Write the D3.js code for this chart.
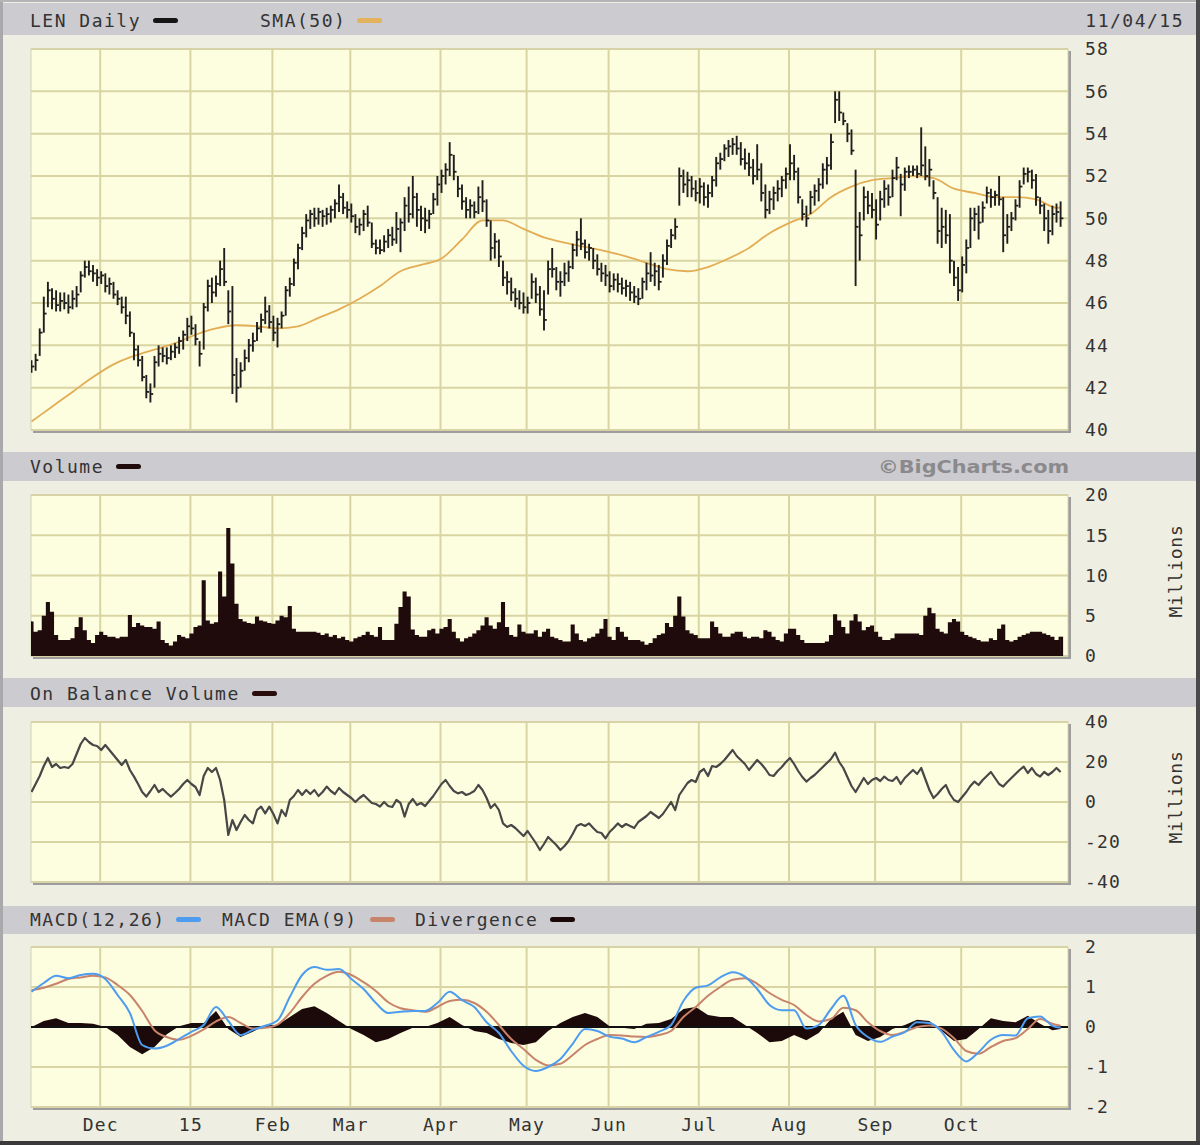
<!DOCTYPE html>
<html><head><meta charset="utf-8">
<script src="https://cdn.jsdelivr.net/npm/d3@7"></script>
<style>
html,body{margin:0;padding:0;background:#efeee2;}
svg{display:block;}
</style></head><body>
<svg id="chart" width="1200" height="1145"></svg>
<script>
// ---------- DATA (trading days from 2014-11-05 to 2015-11-04) ----------
const monthLabels = ["Dec","15","Feb","Mar","Apr","May","Jun","Jul","Aug","Sep","Oct"];
const monthStartIdx = [17,39,59,78,100,121,141,163,185,206,227];

const priceTicks = [40,42,44,46,48,50,52,54,56,58];
const volTicks = [0,5,10,15,20];
const obvTicks = [-40,-20,0,20,40];
const macdTicks = [-2,-1,0,1,2];

const high = [
43.3,43.6,44.8,46.3,47.0,46.7,46.6,46.5,46.5,46.4,
46.6,46.8,47.5,48.0,48.0,47.8,47.6,47.5,47.4,47.2,
47.0,46.6,46.3,46.3,45.6,44.6,44.0,43.5,42.6,42.2,
43.5,44.0,43.9,43.9,44.0,44.1,44.4,44.7,45.3,45.4,
45.0,44.2,46.0,47.1,47.2,47.3,48.0,48.6,46.6,46.8,
43.4,43.2,43.8,44.3,44.6,45.1,45.5,46.3,45.9,45.4,
45.3,45.6,46.8,47.2,48.1,48.8,49.6,50.2,50.4,50.5,
50.5,50.4,50.5,50.6,50.9,51.6,51.2,50.8,50.7,50.2,
50.0,50.4,50.6,49.8,49.0,49.0,49.2,49.5,49.6,50.3,
50.0,51.0,51.5,52.0,51.2,50.6,50.5,50.4,51.2,52.0,
52.3,52.6,53.6,53.0,52.0,51.6,51.0,50.9,50.8,51.5,
51.8,50.9,49.9,49.3,49.0,48.0,47.5,47.2,46.7,46.6,
46.5,46.3,47.4,47.2,46.8,46.6,48.0,48.6,47.7,47.5,
47.9,48.0,48.8,49.4,50.0,49.0,48.8,48.6,48.3,47.9,
47.8,47.5,47.4,47.4,47.2,47.1,47.0,46.8,46.7,47.2,
47.9,48.4,47.9,47.8,48.3,49.0,49.5,50.0,52.4,52.3,
52.2,52.0,51.8,51.9,51.7,51.6,52.0,52.9,53.1,53.5,
53.7,53.8,53.9,53.6,53.3,53.1,52.8,53.5,52.6,51.6,
51.3,51.5,51.8,52.0,52.4,53.5,53.0,52.4,50.9,50.6,
51.3,51.6,51.9,52.6,52.9,54.0,56.0,56.0,55.0,54.5,
54.2,52.3,50.3,51.5,51.3,51.2,50.9,51.3,51.8,51.6,
52.3,52.9,52.1,52.4,52.5,52.5,52.5,54.3,53.4,52.8,
51.8,51.0,50.5,50.4,50.2,48.0,47.7,48.2,49.0,50.5,
50.5,50.6,50.8,51.5,51.4,51.3,52.0,51.0,50.2,50.3,
50.9,51.8,52.4,52.4,52.3,52.1,51.0,50.7,50.4,50.6,
50.7,50.8];
const low = [
42.7,42.8,43.5,44.6,45.8,45.7,45.6,45.6,45.7,45.5,
45.7,45.8,46.5,47.2,47.3,47.0,46.8,46.9,46.5,46.4,
46.2,45.9,45.5,45.0,44.4,43.3,43.0,42.3,41.5,41.3,
42.0,43.0,43.2,43.1,43.3,43.4,43.6,43.8,44.2,44.5,
44.0,43.0,43.8,45.6,46.0,46.3,46.8,46.8,45.0,41.7,
41.3,42.0,42.8,43.2,43.7,44.2,44.6,45.0,44.8,44.2,
43.9,44.8,45.4,46.3,46.8,47.6,48.5,49.1,49.5,49.6,
49.7,49.6,49.7,49.8,50.0,50.3,50.2,50.0,49.8,49.3,
49.2,49.4,49.6,48.6,48.3,48.3,48.4,48.6,48.7,48.8,
48.4,49.4,49.8,50.0,49.6,49.4,49.3,49.5,50.2,50.6,
51.2,51.6,52.0,51.8,51.0,50.4,50.0,50.0,50.0,50.2,
50.3,49.6,48.0,48.1,47.7,46.8,46.4,46.1,45.8,45.7,
45.5,45.5,46.2,46.0,45.4,44.7,46.4,47.2,46.6,46.3,
46.8,47.0,47.6,48.2,48.5,48.1,48.0,47.6,47.3,47.0,
46.8,46.5,46.6,46.5,46.4,46.3,46.1,46.0,45.9,46.2,
46.6,47.0,46.8,46.6,47.2,47.8,48.6,49.0,50.6,51.2,
51.0,51.0,50.8,50.7,50.6,50.5,51.0,51.5,52.3,52.7,
52.9,53.0,53.0,52.5,52.3,52.0,51.6,51.8,50.8,50.0,
50.2,50.4,50.8,51.0,51.4,51.8,51.8,50.7,49.9,49.6,
50.2,50.6,50.8,51.4,51.6,52.3,54.5,54.6,54.4,53.6,
53.0,46.8,48.0,49.9,50.2,50.0,49.0,49.9,50.5,50.6,
51.0,51.8,50.1,51.3,51.9,52.0,51.9,52.0,51.8,51.5,
50.9,48.8,48.6,48.8,47.4,46.8,46.1,46.5,47.4,48.6,
49.4,49.0,49.8,50.7,50.5,50.6,50.6,48.4,48.8,49.4,
49.9,50.5,51.6,51.7,51.4,50.6,50.2,49.4,48.8,49.2,
49.8,49.6];
const close = [
43.0,43.3,44.6,45.5,46.6,46.2,45.9,46.1,46.0,45.8,
46.2,46.4,47.3,47.7,47.5,47.4,47.2,47.3,46.8,46.9,
46.4,46.2,45.8,45.4,44.6,43.8,43.3,42.5,41.8,41.7,
43.2,43.6,43.5,43.4,43.7,43.9,44.2,44.5,44.9,44.8,
44.3,43.6,45.8,46.8,46.5,46.9,47.6,47.0,45.6,42.6,
42.0,42.8,43.4,44.0,44.2,44.8,45.2,45.6,45.1,44.6,
45.0,45.4,46.6,46.9,47.9,48.6,49.3,49.9,50.2,50.0,
50.3,50.1,50.2,50.4,50.7,51.0,50.5,50.4,50.1,49.6,
49.7,50.2,49.8,48.8,48.6,48.5,48.9,49.2,49.0,49.5,
49.8,50.6,50.2,51.0,50.4,50.0,49.9,50.2,50.9,51.6,
52.0,52.3,53.0,52.2,51.4,50.8,50.4,50.6,50.3,51.0,
50.8,49.9,48.6,48.9,48.2,47.2,47.0,46.5,46.2,46.0,
45.8,46.0,47.0,46.4,45.7,45.2,47.6,47.6,47.0,47.0,
47.4,47.7,48.5,49.0,48.8,48.4,48.6,48.0,47.6,47.4,
47.3,46.8,47.1,46.9,46.7,46.8,46.5,46.3,46.2,47.0,
47.4,47.3,47.5,47.0,48.0,48.7,49.2,49.6,52.0,51.6,
51.8,51.4,51.2,51.5,51.0,51.2,51.8,52.6,52.8,53.3,
53.4,53.5,53.3,52.8,52.6,52.4,52.0,52.3,51.2,50.4,
50.9,51.2,51.4,51.8,52.1,52.6,52.2,51.0,50.2,50.0,
51.0,51.3,51.6,52.3,52.5,53.6,55.6,55.0,54.6,54.0,
53.2,49.6,49.2,51.0,50.6,50.4,49.7,50.9,51.4,51.0,
51.9,52.4,51.6,52.2,52.2,52.3,52.1,52.5,52.0,52.3,
51.2,49.4,49.6,49.2,48.0,47.2,46.6,47.8,48.6,50.0,
50.2,49.8,50.5,51.2,51.0,51.1,50.9,49.2,49.6,50.0,
50.6,51.5,52.1,52.2,51.8,51.0,50.6,50.0,49.4,50.2,
50.3,50.0];
// SMA(50), one value every 5 trading days (last = final day)
const sma50 = [
40.4,41.1,41.8,42.5,43.1,43.5,43.8,44.1,44.5,44.8,
44.95,44.9,44.8,44.9,45.3,45.7,46.2,46.8,47.5,47.8,
48.1,49.0,49.9,49.9,49.5,49.1,48.85,48.65,48.45,48.2,
47.9,47.6,47.5,47.7,48.1,48.6,49.3,49.8,50.2,51.0,
51.5,51.8,51.9,52.0,51.9,51.4,51.2,51.0,51.0,50.9,
50.5,50.5];
// Volume, millions
const volume = [
4.3,3.0,3.2,5.0,6.7,5.5,2.6,2.0,2.0,2.0,
2.2,3.6,4.8,3.2,2.0,1.6,2.6,3.0,2.6,2.4,
2.4,2.2,2.4,2.4,5.1,3.6,4.1,3.8,3.6,3.6,
3.4,4.3,2.0,1.6,1.3,1.8,2.6,2.4,2.2,2.8,
3.6,3.8,9.4,4.4,4.0,4.2,10.5,7.4,15.9,11.5,
6.5,4.6,4.3,4.1,4.0,4.9,4.4,4.3,4.1,4.0,
4.4,5.0,4.8,6.2,3.4,3.0,3.0,3.0,3.0,3.0,
2.9,2.6,2.8,2.4,2.6,2.2,2.4,2.0,1.8,2.2,
2.4,2.6,3.0,2.6,2.4,3.6,2.0,2.0,2.0,4.0,
6.1,8.0,7.4,3.3,2.6,2.4,2.4,3.2,3.4,2.8,
3.4,3.6,4.6,3.0,2.2,1.8,2.2,2.4,2.8,3.2,
3.8,4.8,3.8,3.4,4.2,6.7,3.6,2.6,2.4,3.9,
3.0,2.8,2.8,3.2,2.4,3.0,3.4,2.4,2.2,2.0,
1.8,1.8,3.9,2.8,2.0,1.8,2.2,2.4,2.8,3.4,
4.6,2.4,2.0,3.6,3.0,2.4,2.0,2.0,2.0,1.8,
1.4,1.6,2.2,2.6,2.8,4.1,3.6,5.0,7.4,4.9,
3.2,2.8,2.6,2.2,2.2,2.2,4.3,3.6,2.8,2.4,
2.4,2.8,3.0,3.0,2.4,2.2,2.4,2.4,2.2,3.2,
3.0,2.4,2.0,1.8,2.8,3.4,3.4,2.6,2.0,1.6,
1.6,1.6,1.6,1.6,1.8,2.6,5.2,4.4,3.6,2.8,
4.4,5.2,4.3,3.2,3.6,3.8,3.0,2.4,2.0,2.0,
2.2,2.8,2.8,2.8,2.8,2.8,2.8,2.6,5.0,6.0,
5.3,3.4,3.0,2.8,4.2,4.6,4.3,3.0,2.6,2.4,
2.2,2.0,1.8,1.8,2.2,2.0,3.4,3.9,2.0,1.8,
2.0,2.4,2.6,2.8,3.0,3.0,3.0,2.8,2.6,2.4,
2.0,2.4];
// On Balance Volume, millions
const obv = [
5,9,13,18,22,17.5,19,17,17.5,17,
19,24,29,32,30,28.5,28,26,28.5,26,
23.5,21,18.5,21,16,12.7,9,5,2.7,5.5,
8.5,5,6.5,4.5,2.7,4.5,6.5,9,11,9,
7.5,3.5,13,17,15,17,11,1,-16.5,-9,
-14,-10,-6.5,-9,-10.7,-4,-2.3,-5.7,-2.3,-6,
-10.7,-4,-7,1,3,6,3.5,6,4,6,
3,5,7.7,5.5,4,7,5,3.5,2,0,
2,3.5,1.5,-0.5,-1,-2.3,0,-2,-2.5,1,
-0.5,-7.3,-1,1.5,-1.5,-0.5,-2,0.5,3,6,
9,11,8,5.5,4.3,5,3.5,4.3,5.5,8.5,
6,2,-3,-1,-4,-10.7,-12.5,-11.5,-13,-15,
-17,-14.5,-17.5,-20.5,-24,-21,-17.5,-19.5,-21.5,-24,
-22,-19.5,-16,-12,-11,-12,-10.7,-13,-15,-15.5,
-18.2,-15,-13,-10.7,-12.5,-11,-12,-13,-10,-8.5,
-7,-5,-6.5,-8,-6,-3,0,-4,3.5,6.5,
9.5,11,10,15,16.5,13,18,17.5,19,21,
23.5,26,23,21,19,16,18.5,21,19,16.5,
13.5,13,15.5,17.5,20,22,19,15.5,12.5,10.2,
12,13.5,15.5,17.5,19.5,21.5,24.7,20,17,12.5,
8,5,8.5,12,9,11,12,10.5,12.7,11,
10.5,12.5,9,12,14,16,14,17,11.5,6,
2,4,6.5,8.5,4,1,0,2.5,5,8,
10.2,8.5,11,13,15,12,9,7.7,10,12,
14,16,17.7,14.5,17,14,12.7,15,13.5,15,
17,15];
// MACD(12,26), EMA(9), Divergence - one value every 3 trading days (last = final day)
const macd = [
0.88,1.1,1.28,1.22,1.3,1.33,1.2,0.8,0.35,-0.45,
-0.54,-0.47,-0.3,-0.12,0.05,0.5,0.15,-0.2,-0.07,0.03,
0.16,0.75,1.3,1.5,1.43,1.45,1.2,0.95,0.6,0.35,
0.38,0.4,0.4,0.6,0.88,0.67,0.5,0.12,-0.15,-0.6,
-0.97,-1.1,-1.0,-0.8,-0.42,-0.05,-0.1,-0.24,-0.29,-0.38,
-0.25,-0.12,0.05,0.65,0.98,1.04,1.24,1.37,1.26,0.95,
0.55,0.42,0.42,-0.04,0.05,0.45,0.78,0.05,-0.25,-0.37,
-0.24,-0.13,0.12,0.1,-0.12,-0.58,-0.86,-0.63,-0.32,-0.2,
-0.21,0.22,0.26,0.03,-0.02];
const macdEma = [
0.92,0.98,1.08,1.2,1.24,1.28,1.24,1.05,0.8,0.4,
-0.08,-0.25,-0.32,-0.22,-0.06,0.14,0.25,0.1,-0.04,-0.02,
0.06,0.35,0.75,1.08,1.28,1.38,1.3,1.12,0.9,0.62,
0.47,0.42,0.38,0.5,0.65,0.68,0.6,0.38,0.05,-0.3,
-0.55,-0.82,-0.96,-0.92,-0.7,-0.45,-0.3,-0.2,-0.21,-0.24,
-0.25,-0.2,-0.1,0.25,0.5,0.78,1.0,1.18,1.22,1.08,
0.85,0.68,0.55,0.3,0.14,0.2,0.48,0.42,0.12,-0.1,
-0.2,-0.12,0.0,0.04,-0.04,-0.28,-0.6,-0.67,-0.5,-0.35,
-0.28,-0.05,0.2,0.08,0.03];
const divergence = [
0,0.15,0.22,0.1,0.1,0.08,0,-0.2,-0.5,-0.68,
-0.5,-0.18,0.02,0.1,0.1,0.4,-0.05,-0.25,-0.12,0.05,
0.05,0.25,0.45,0.52,0.35,0.15,-0.05,-0.2,-0.38,-0.3,
-0.15,-0.02,0,0.1,0.25,0.05,-0.1,-0.15,-0.3,-0.4,
-0.45,-0.38,-0.1,0.1,0.25,0.35,0.25,0.02,-0.02,-0.05,
0.08,0.1,0.2,0.45,0.5,0.3,0.25,0.25,0.05,-0.15,
-0.38,-0.35,-0.2,-0.33,-0.15,0.2,0.38,-0.2,-0.35,-0.25,
-0.05,0.05,0.18,0.15,-0.1,-0.35,-0.3,-0.05,0.22,0.15,
0.12,0.28,0.08,-0.08,-0.05];

// ---------- LAYOUT ----------
const N = close.length;
const days = d3.range(N);
const smaDays = d3.range(0, N, 5).concat([N-1]);
const macdDays = d3.range(0, N, 3).concat([N-1]);
const L = 31, R = 1068;
const MONO = "'DejaVu Sans Mono', monospace";
const svg = d3.select("#chart");
const C = {bg:"#efeee2", head:"#cccbd0", plot:"#fdfde0", grid:"#d9d5a3", text:"#333333"};

svg.append("rect").attr("width",1200).attr("height",1145).attr("fill",C.bg);
// outer frame
svg.append("rect").attr("x",0).attr("y",0).attr("width",3).attr("height",1145).attr("fill","#a9a9ab");
svg.append("rect").attr("x",0).attr("y",0).attr("width",1200).attr("height",2).attr("fill","#b5b5b8");
svg.append("rect").attr("x",1196).attr("y",0).attr("width",4).attr("height",1145).attr("fill","#4a4a4a");
svg.append("rect").attr("x",0).attr("y",1141).attr("width",1200).attr("height",4).attr("fill","#3a3a3a");

const x = d3.scaleLinear().domain([0, N-1]).range([31.5, 31.5 + 4.1*(N-1)]);

function headerBar(y0, y1){
  svg.append("rect").attr("x",3).attr("y",y0).attr("width",1193).attr("height",y1-y0).attr("fill",C.head);
}
headerBar(3,35); headerBar(452,481); headerBar(678,707); headerBar(906,934);

function hText(t, xx, yy, anchor){
  return svg.append("text").attr("x",xx).attr("y",yy).style("font-family",MONO).style("font-size","18px")
    .style("letter-spacing","1.5px").attr("fill",C.text).attr("text-anchor",anchor||"start").text(t);
}
function swatch(xx, yy, color){
  svg.append("rect").attr("x",xx).attr("y",yy).attr("width",25).attr("height",5).attr("rx",2.5).attr("fill",color);
}
// headers
hText("LEN Daily",30,27); swatch(153,18,"#151515");
hText("SMA(50)",260,27); swatch(357,18,"#e3b25c");
hText("11/04/15",1184,27,"end");
hText("Volume",30,473); swatch(116,464,"#1f0b0b");
svg.append("text").attr("x",1069).attr("y",473).attr("text-anchor","end")
  .style("font-family","'DejaVu Sans', sans-serif").style("font-weight","bold").style("font-size","18px")
  .attr("textLength",191).attr("lengthAdjust","spacingAndGlyphs")
  .attr("fill","#8a8a8c").text("©BigCharts.com");
hText("On Balance Volume",30,700); swatch(252,691,"#2a0c0c");
hText("MACD(12,26)",30,926); swatch(176,917,"#4d9cf0");
hText("MACD EMA(9)",222,926); swatch(370,917,"#c8836b");
hText("Divergence",415,926); swatch(550,917,"#1a0808");

let clipId = 0;
function panel(top, bottom, domain, ticks){
  const y = d3.scaleLinear().domain(domain).range([bottom, top]);
  // shadow
  svg.append("rect").attr("x",L+2).attr("y",top+2).attr("width",R-L+1).attr("height",bottom-top+1).attr("fill","#9d9d9d");
  svg.append("rect").attr("x",L).attr("y",top).attr("width",R-L).attr("height",bottom-top).attr("fill",C.plot);
  const g = svg.append("g");
  g.selectAll("line.hg").data(ticks).join("line").attr("class","hg")
    .attr("x1",L).attr("x2",R).attr("y1",d=>y(d)).attr("y2",d=>y(d))
    .attr("stroke",C.grid).attr("stroke-width",2);
  g.selectAll("line.vg").data(monthStartIdx).join("line").attr("class","vg")
    .attr("x1",d=>x(d)-1).attr("x2",d=>x(d)-1).attr("y1",top).attr("y2",bottom)
    .attr("stroke",C.grid).attr("stroke-width",2);
  svg.append("rect").attr("x",L).attr("y",top).attr("width",R-L).attr("height",bottom-top)
    .attr("fill","none").attr("stroke","#d6d2aa").attr("stroke-width",1);
  const ax = svg.append("g").attr("transform",`translate(${R},0)`)
    .call(d3.axisRight(y).tickValues(ticks).tickSize(0).tickPadding(17).tickFormat(d=>String(d)));
  ax.select(".domain").remove();
  ax.selectAll("text").style("font-family",MONO).style("font-size","18px")
    .style("letter-spacing","1.2px").attr("fill",C.text);
  const id = "clip"+(clipId++);
  svg.append("clipPath").attr("id",id).append("rect").attr("x",L).attr("y",top).attr("width",R-L).attr("height",bottom-top);
  const data = svg.append("g").attr("clip-path",`url(#${id})`);
  return {y, g:data};
}

// ---------- PRICE ----------
const P = panel(49, 430, [40,58], priceTicks);
P.g.append("path").datum(sma50)
  .attr("d", d3.line().x((d,i)=>x(smaDays[i])).y(d=>P.y(d)).curve(d3.curveMonotoneX))
  .attr("fill","none").attr("stroke","#e3ad55").attr("stroke-width",1.8);
P.g.selectAll("line.bar").data(days).join("line").attr("class","bar")
  .attr("x1",i=>x(i)).attr("x2",i=>x(i)).attr("y1",i=>P.y(high[i])).attr("y2",i=>P.y(low[i]))
  .attr("stroke","#1e1e1e").attr("stroke-width",1.9);
P.g.selectAll("line.cl").data(days).join("line").attr("class","cl")
  .attr("x1",i=>x(i)).attr("x2",i=>x(i)+2.8).attr("y1",i=>P.y(close[i])).attr("y2",i=>P.y(close[i]))
  .attr("stroke","#1e1e1e").attr("stroke-width",1.8);

// ---------- VOLUME ----------
const V = panel(495, 656, [0,20], volTicks);
V.g.append("path").datum(volume)
  .attr("d", d3.area().x((d,i)=>x(i)).y0(V.y(0)).y1(d=>V.y(d)).curve(d3.curveStep))
  .attr("fill","#1f0b0b");
// extend first / last half-day
V.g.append("rect").attr("x",L).attr("width",x(0)-L+0.5).attr("y",V.y(volume[0])).attr("height",V.y(0)-V.y(volume[0])).attr("fill","#1f0b0b");
V.g.append("rect").attr("x",x(N-1)-0.5).attr("width",3).attr("y",V.y(volume[N-1])).attr("height",V.y(0)-V.y(volume[N-1])).attr("fill","#1f0b0b");
svg.append("text").attr("transform","translate(1182,571) rotate(-90)").attr("text-anchor","middle")
  .style("font-family",MONO).style("font-size","18px").style("letter-spacing","0.8px").attr("fill",C.text).text("Millions");

// ---------- OBV ----------
const O = panel(722, 882, [-40,40], obvTicks);
O.g.append("path").datum(obv)
  .attr("d", d3.line().x((d,i)=>x(i)).y(d=>O.y(d)))
  .attr("fill","none").attr("stroke","#474747").attr("stroke-width",2.2).attr("stroke-linejoin","round");
svg.append("text").attr("transform","translate(1182,797) rotate(-90)").attr("text-anchor","middle")
  .style("font-family",MONO).style("font-size","18px").style("letter-spacing","0.8px").attr("fill",C.text).text("Millions");

// ---------- MACD ----------
const M = panel(947, 1107, [-2,2], macdTicks);
M.g.append("path").datum(divergence)
  .attr("d", d3.area().x((d,i)=>x(macdDays[i])).y0(M.y(0)).y1(d=>M.y(d)))
  .attr("fill","#1c0909");
M.g.append("line").attr("x1",L).attr("x2",R).attr("y1",M.y(0)).attr("y2",M.y(0))
  .attr("stroke","#111").attr("stroke-width",2);
M.g.append("path").datum(macdEma)
  .attr("d", d3.line().x((d,i)=>x(macdDays[i])).y(d=>M.y(d)).curve(d3.curveMonotoneX))
  .attr("fill","none").attr("stroke","#c8836b").attr("stroke-width",2);
M.g.append("path").datum(macd)
  .attr("d", d3.line().x((d,i)=>x(macdDays[i])).y(d=>M.y(d)).curve(d3.curveMonotoneX))
  .attr("fill","none").attr("stroke","#4d9cf0").attr("stroke-width",2);

// x axis labels
const xa = svg.append("g").attr("transform","translate(-1,1107)")
  .call(d3.axisBottom(x).tickValues(monthStartIdx).tickSize(0).tickPadding(11)
    .tickFormat((d,i)=>monthLabels[i]));
xa.select(".domain").remove();
xa.selectAll("text").style("font-family",MONO).style("font-size","18px")
  .style("letter-spacing","1.2px").attr("fill",C.text);
</script>
</body></html>
